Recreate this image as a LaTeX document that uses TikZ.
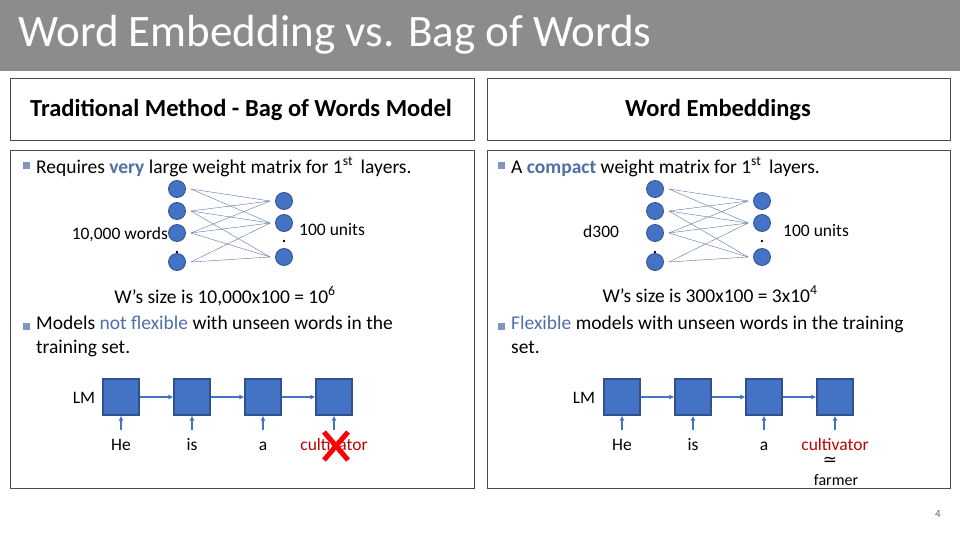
\documentclass[tikz,border=0pt]{standalone}
\usepackage{fontspec}
\setmainfont{Carlito}
\newfontfamily\symf{DejaVu Sans}
\usetikzlibrary{arrows.meta}
\definecolor{tgrey}{HTML}{8C8C8C}
\definecolor{nblue}{HTML}{4472C4}
\definecolor{nedge}{HTML}{2F528F}
\definecolor{hl}{HTML}{4F6FA8}
\definecolor{bul}{HTML}{7F96BF}
\definecolor{cred}{HTML}{C00000}
\tikzset{
 panel/.style={draw=black!70,line width=0.6pt,fill=white},
 neur/.style={circle,fill=nblue,draw=nedge,line width=0.8pt,minimum size=17pt,inner sep=0pt},
 conn/.style={draw=nedge!80,line width=0.4pt},
 lmbox/.style={rectangle,fill=nblue,draw=nedge,line width=1.2pt,minimum size=36pt,inner sep=0pt},
 larr/.style={draw=nblue,line width=1.3pt,-{Latex[length=5pt,width=5pt]}},
 txt/.style={font=\fontsize{19.5}{23.5}\selectfont,inner sep=0pt},
 bullet/.style={fill=bul,minimum size=7pt,inner sep=0pt}
}
\begin{document}
\begin{tikzpicture}[x=1pt,y=-1pt]
\useasboundingbox (0,0) rectangle (960,540);
\fill[white] (0,0) rectangle (960,540);
\fill[tgrey] (0,0) rectangle (960,71);
\node[anchor=west,text=white,font=\fontsize{45}{50}\selectfont,inner sep=0pt] (title) at (18,35) {Word Embedding vs. Bag of Words};
% panels
\draw[panel] (10,78) rectangle (474,140);
\draw[panel] (487,78) rectangle (950,140);
\draw[panel] (10,150) rectangle (474,488);
\draw[panel] (487,150) rectangle (950,488);
\node[txt,font=\fontsize{24.5}{28}\selectfont\bfseries] (h1) at (241,110) {Traditional Method - Bag of Words Model};
\node[txt,font=\fontsize{24.5}{28}\selectfont\bfseries] (h2) at (718,110) {Word Embeddings};
% bullets
\node[bullet] (b1) at (26,166) {};
\node[txt,anchor=west] (t1) at (36,167) {Requires \textcolor{hl}{\bfseries very} large weight matrix for 1\textsuperscript{st}\, layers.};
\node[bullet] (b2) at (26,326) {};
\node[txt,anchor=north west,align=left] (t2) at (36,316) {Models \textcolor{hl}{not flexible} with unseen words in the\\training set.};
\node[bullet] (b3) at (501,166) {};
\node[txt,anchor=west] (t3) at (511,167) {A \textcolor{hl}{\bfseries compact} weight matrix for 1\textsuperscript{st}\, layers.};
\node[bullet] (b4) at (501,326) {};
\node[txt,anchor=north west,align=left] (t4) at (511,316) {\textcolor{hl}{Flexible} models with unseen words in the training\\set.};
% networks
\foreach \s/\xi/\xo in {L/177/284,R/655/762}{
 \node[neur] (\s i1) at (\xi,189) {};
 \node[neur] (\s i2) at (\xi,211) {};
 \node[neur] (\s i3) at (\xi,233) {};
 \node[txt] (\s id) at (\xi,252) {.};
 \node[neur] (\s i4) at (\xi,262) {};
 \node[neur] (\s o1) at (\xi+107,201) {};
 \node[neur] (\s o2) at (\xi+107,223) {};
 \node[txt] (\s od) at (\xi+107,241) {.};
 \node[neur] (\s o3) at (\xi+107,257) {};
 \foreach \a/\b in {1/1,1/2,2/1,2/2,2/3,3/1,3/2,3/3,4/2,4/3}{
   \draw[conn] ([xshift=5pt]\s i\a.east) -- ([xshift=-5pt]\s o\b.west);
 }
}
\node[txt,anchor=east,font=\fontsize{17.5}{21}\selectfont] (lw) at ([yshift=-2pt]Li3.west) {10,000 words};
\node[txt,anchor=west,font=\fontsize{17.5}{21}\selectfont] (lu) at (299,230) {100 units};
\node[txt,anchor=west,font=\fontsize{17.5}{21}\selectfont] (rw) at (583,231) {d300};
\node[txt,anchor=west,font=\fontsize{17.5}{21}\selectfont] (ru) at (783,231) {100 units};
\node[txt] (ws1) at (225,296) {W’s size is 10,000x100 = 10\textsuperscript{6}};
\node[txt] (ws2) at (710,294) {W’s size is 300x100 = 3x10\textsuperscript{4}};
% LM chains
\foreach \s/\x/\lmx in {L/121/84,R/622/584}{
 \node[lmbox] (\s m1) at (\x,397) {};
 \node[lmbox] (\s m2) at (\x+71,397) {};
 \node[lmbox] (\s m3) at (\x+142,397) {};
 \node[lmbox] (\s m4) at (\x+213,397) {};
 \node[txt,font=\fontsize{17.5}{21}\selectfont] (\s lm) at (\lmx,398) {LM};
 \foreach \a/\b in {1/2,2/3,3/4}{\draw[larr] (\s m\a) -- (\s m\b);}
 \node[txt,anchor=base,font=\fontsize{17.5}{21}\selectfont] (\s w1) at (\x,450) {He};
 \node[txt,anchor=base,font=\fontsize{17.5}{21}\selectfont] (\s w2) at (\x+71,450) {is};
 \node[txt,anchor=base,font=\fontsize{17.5}{21}\selectfont] (\s w3) at (\x+142,450) {a};
 \node[txt,anchor=base,text=cred,font=\fontsize{17.5}{21}\selectfont] (\s w4) at (\x+213,450) {cultivator};
 \foreach \k in {1,2,3,4}{
  \draw[larr] (\s m\k.south |- 0,430) -- (\s m\k.south);
 }
}
\coordinate (xa) at (324,432); \coordinate (xb) at (348,460);
\coordinate (xc) at (348,432); \coordinate (xd) at (324,460);
\draw[red,line width=5pt] (xa) -- (xb) (xc) -- (xd);
\node[font=\symf\fontsize{17}{17}\selectfont,inner sep=0pt] (approx) at (830,461) {≃};
\node[txt,font=\fontsize{16}{18}\selectfont] (farmer) at (836,480) {farmer};
\node[txt,font=\fontsize{11}{13}\selectfont,text=black!60] (pg) at (938,514) {4};
\end{tikzpicture}
\end{document}
